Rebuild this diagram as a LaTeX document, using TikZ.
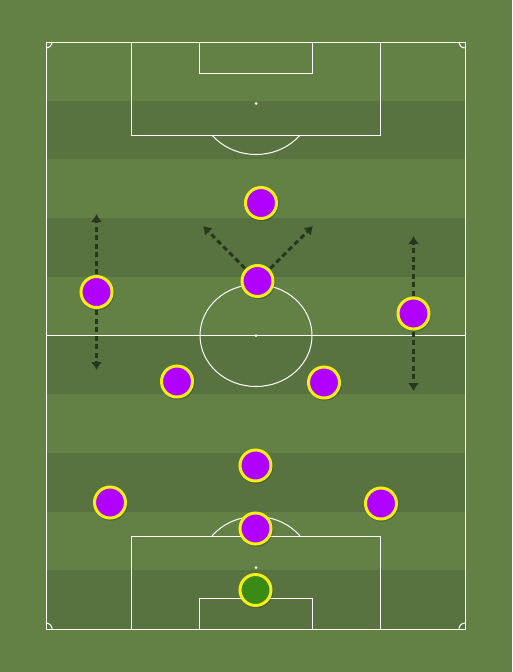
\documentclass[tikz,border=0pt]{standalone}
\usetikzlibrary{arrows.meta}
\definecolor{bglight}{RGB}{99,128,69}
\definecolor{bgdark}{RGB}{88,115,63}
\definecolor{plpurple}{RGB}{176,0,255}
\definecolor{plyellow}{RGB}{245,240,20}
\definecolor{gkgreen}{RGB}{60,138,22}
\definecolor{arrowc}{RGB}{40,54,32}
\tikzset{
  pline/.style={white, line width=1pt},
  player/.style={circle, draw=plyellow, line width=3pt, fill=plpurple, minimum size=31pt, inner sep=0pt},
  keeper/.style={player, fill=gkgreen},
  run/.style={arrowc, line width=3pt, dash pattern=on 5pt off 3.5pt, -{Latex[length=8pt,width=11pt]}, shorten <=1pt},
}
\begin{document}
\begin{tikzpicture}[x=1pt,y=-1pt]
\useasboundingbox (0,0) rectangle (512,672);
\fill[bglight] (0,0) rectangle (512,672);
% stripes
\foreach \i in {1,3,5,7,9} {
  \fill[bgdark] (46,{42+\i*58.7}) rectangle (465,{42+(\i+1)*58.7});
}
% outline
\draw[pline] (46,42) rectangle (465,629);
\draw[pline] (46,335.5) -- (465,335.5);
\draw[pline] (256,335.5) ellipse [x radius=56, y radius=51];
\fill[white] (256,335.5) circle (1.5);
% top boxes
\draw[pline] (131,42) rectangle (380,135);
\draw[pline] (199,42) rectangle (312,73);
\fill[white] (256,103.5) circle (1.5);
\begin{scope}
  \clip (100,135) rectangle (412,170);
  \draw[pline] (256,103.5) ellipse [x radius=56, y radius=51];
\end{scope}
% bottom boxes
\draw[pline] (131,536) rectangle (380,629);
\draw[pline] (199,598) rectangle (312,629);
\fill[white] (256,567.5) circle (1.5);
\begin{scope}
  \clip (100,500) rectangle (412,536);
  \draw[pline] (256,567.5) ellipse [x radius=56, y radius=51];
\end{scope}
% corner arcs
\draw[pline] (52,42) arc[start angle=0, end angle=90, radius=6];
\draw[pline] (459,42) arc[start angle=180, end angle=90, radius=6];
\draw[pline] (52,629) arc[start angle=0, end angle=-90, radius=6];
\draw[pline] (459,629) arc[start angle=180, end angle=270, radius=6];

% shadows
\foreach \x/\y in {261/203,257.5/281,96.5/292,413.5/313.5,177/381.5,324/382.5,255.5/465.5,110/502.5,381/503.5,255.5/528.5,255.5/590} {
  \fill[black, opacity=0.18] (\x+0.8,\y+1.2) circle (17);
}
% players
\node[player] (p1) at (261,203) {};
\node[player] (p2) at (257.5,281) {};
\node[player] (p3) at (96.5,292) {};
\node[player] (p4) at (413.5,313.5) {};
\node[player] (p5) at (177,381.5) {};
\node[player] (p6) at (324,382.5) {};
\node[player] (p7) at (255.5,465.5) {};
\node[player] (p8) at (110,502.5) {};
\node[player] (p9) at (381,503.5) {};
\node[player] (p10) at (255.5,528.5) {};
\node[keeper] (gk) at (255.5,590) {};
% run targets
\coordinate (t3u) at (96.5,214);
\coordinate (t3d) at (96.5,370);
\coordinate (t4u) at (413.5,236);
\coordinate (t4d) at (413.5,391);
\coordinate (t2l) at (203,226);
\coordinate (t2r) at (313,226);
\draw[run] (p3) -- (t3u);
\draw[run] (p3) -- (t3d);
\draw[run] (p4) -- (t4u);
\draw[run] (p4) -- (t4d);
\draw[run] (p2) -- (t2l);
\draw[run] (p2) -- (t2r);
\end{tikzpicture}
\end{document}
